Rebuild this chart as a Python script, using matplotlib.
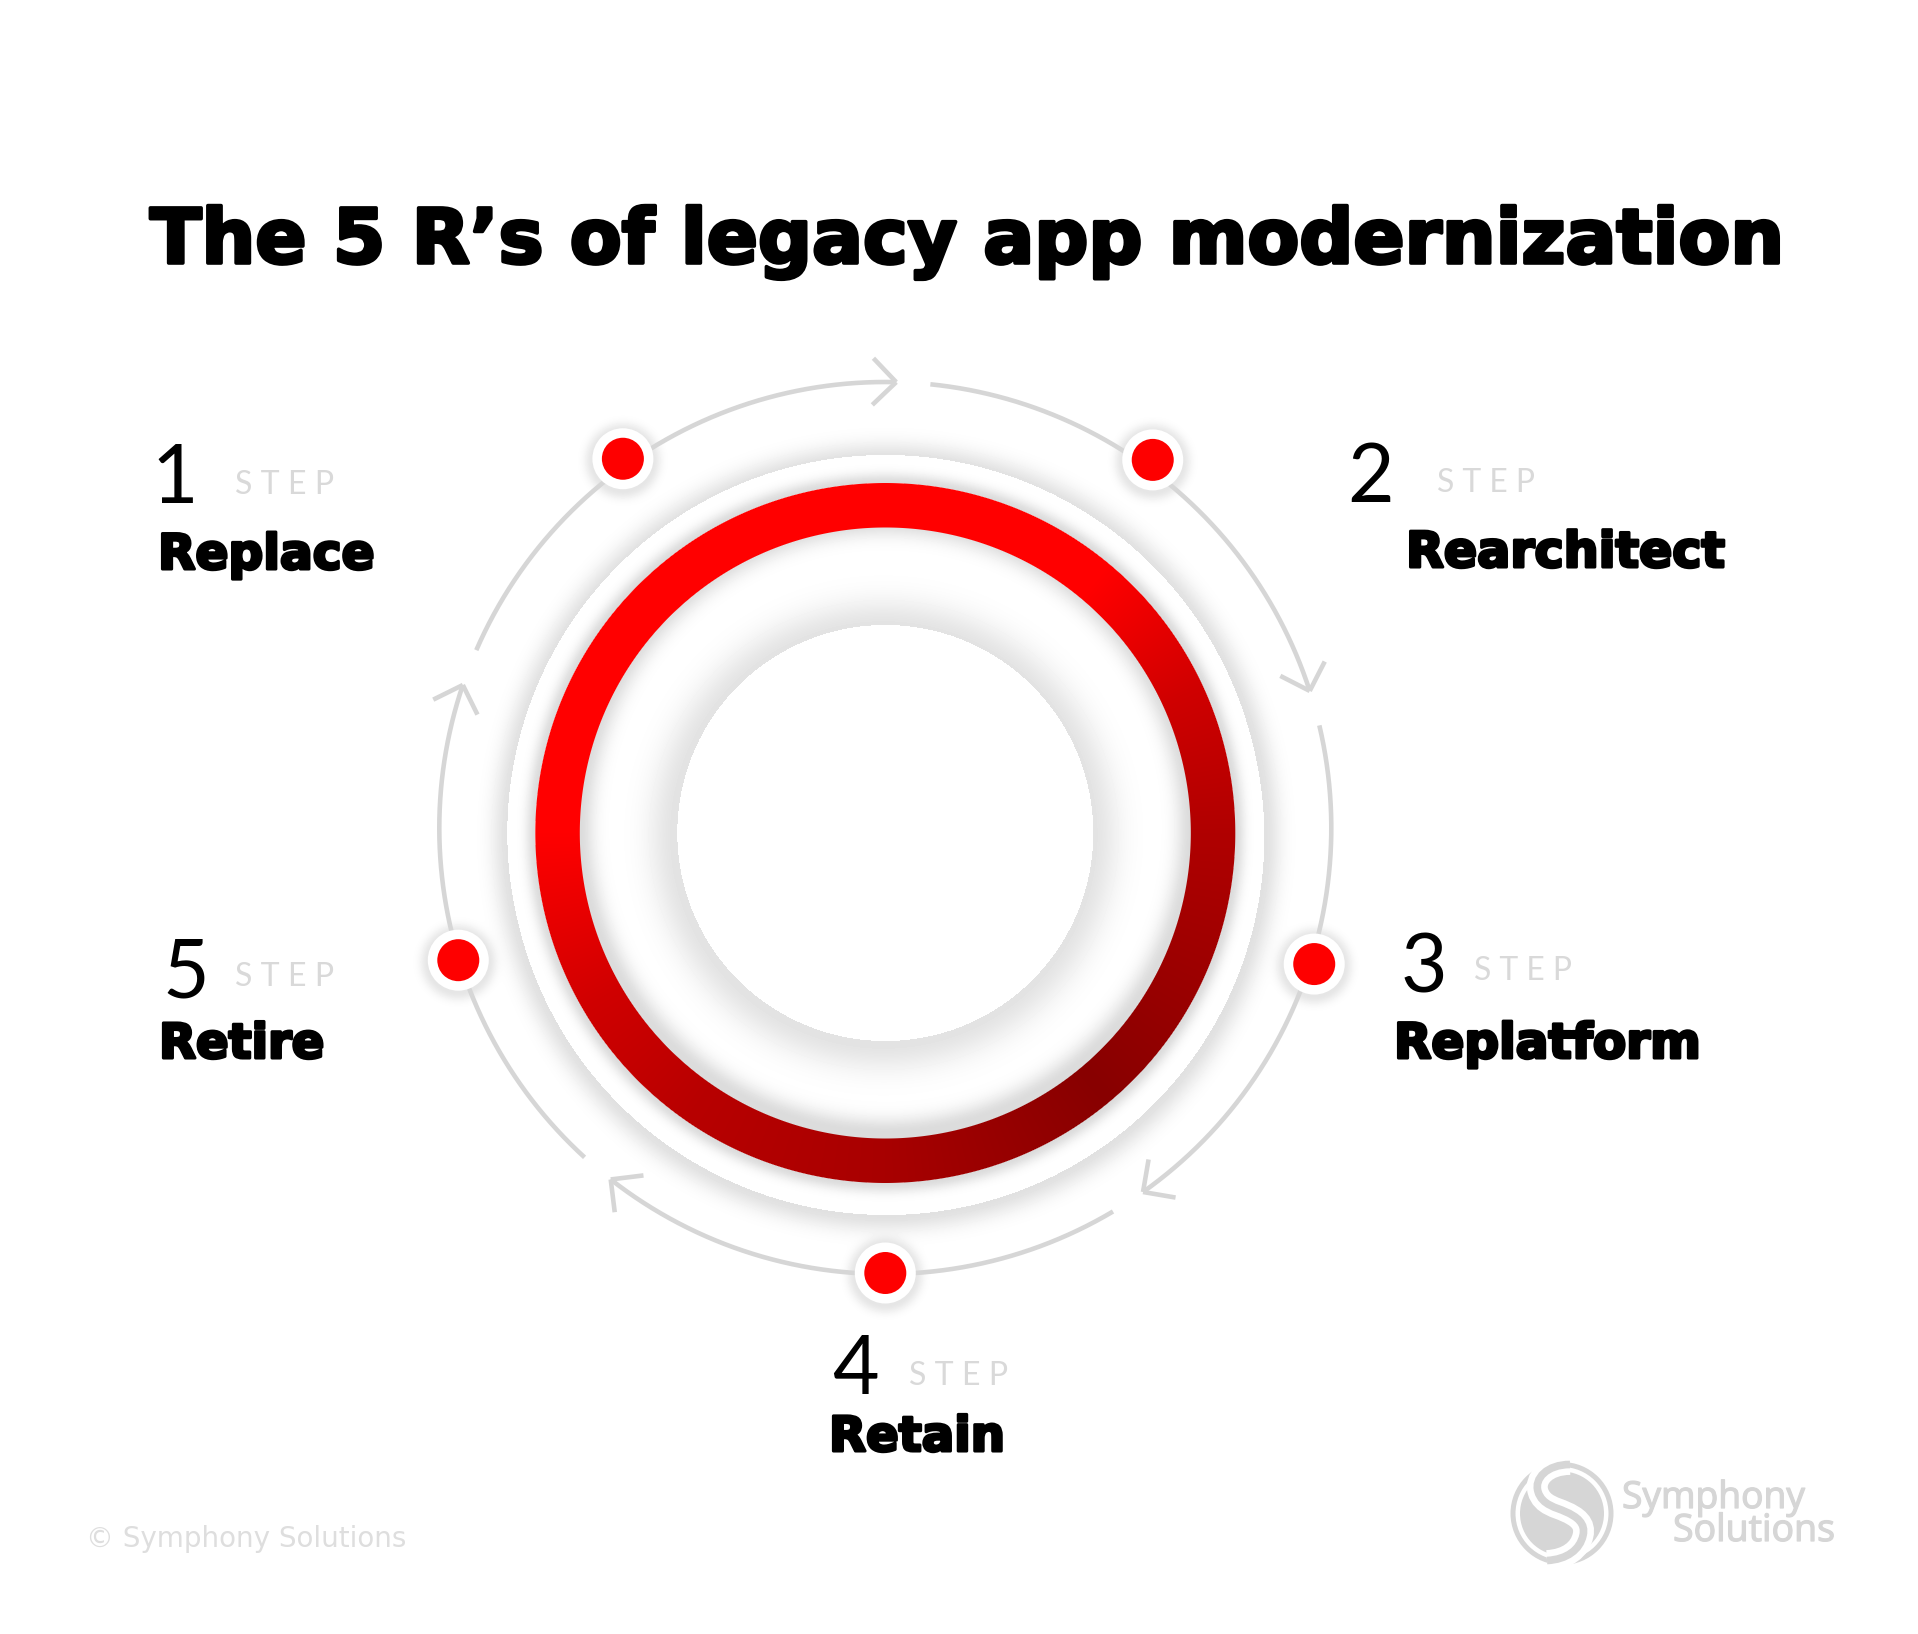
import numpy as np
import matplotlib
matplotlib.use("Agg")
import matplotlib.pyplot as plt
import matplotlib.patheffects as pe
from matplotlib.patches import Circle, PathPatch
from matplotlib.path import Path

# ---- content -------------------------------------------------------------
title = "The 5 R\u2019s of legacy app modernization"
step_numbers = ["1", "2", "3", "4", "5"]
step_names = ["Replace", "Rearchitect", "Replatform", "Retain", "Retire"]
# marker angle on the loop, degrees (counter-clockwise from east)
dot_angles = [125.4, 54.0, -17.6, -90.0, -162.8]
dot_radii = [453, 455, 450, 445, 447]
# arc start and arrow tip angles, degrees
arc_starts = [156.5, 84.2, 13.3, -59.3, -132.4]
arc_tips = [88.6, 17.9, -54.7, -128.0, -198.7]
# ring colour around the circle
ring_angles = [-180, -150, -125, -90, -50, 0, 25, 50, 180]
ring_reds = [255, 208, 184, 168, 136, 176, 208, 255, 255]

W, H = 1918, 1634
fig = plt.figure(figsize=(W / 100, H / 100), dpi=100, facecolor="white")
ax = fig.add_axes([0, 0, 1, 1])
ax.set_xlim(0, W)
ax.set_ylim(H, 0)
ax.axis("off")

CX, CY = 885.3, 833.0
LOOP_X, LOOP_Y, LOOP_R = 885.3, 828.0, 446.0
GREY = "#d6d6d6"

yy, xx = np.mgrid[0:H, 0:W] + 0.5
rr = np.hypot(xx - CX, yy - CY)


def soft(dist, depth, width):
    """Soft shadow strength for a distance beyond an edge."""
    return depth * np.exp(-np.clip(dist, 0, None) ** 2 / (2 * width ** 2))


shade = np.ones((H, W))
# halo outside the big disc
r2 = np.hypot(xx - CX - 1, yy - CY - 4)
out = soft(r2 - 378, 0.12, 12)
out[r2 < 378] = 0
shade -= out
# shadow around the ring inside the halo
band = (rr >= 350) & (rr < 378)
shade[band] = 1 - soft(rr[band] - 350, 0.14, 7)
shade[(r2 < 378) & (rr >= 378)] = 1
# inner shadows
mid = (rr < 306) & (rr >= 208)
r3 = np.hypot(xx - CX + 1.5, yy - CY - 2)
r4 = np.hypot(xx - CX, yy - CY + 6)
shade[mid] = (1 - soft(306 - r4[mid], 0.14, 11)) * (1 - soft(r3[mid] - 208, 0.11, 20))
shade[rr < 208] = 1
# soft shadow beneath the markers
for a, d in zip(dot_angles, dot_radii):
    dx = LOOP_X + d * np.cos(np.radians(a))
    dy = LOOP_Y - d * np.sin(np.radians(a))
    dd = np.hypot(xx - dx, yy - dy - 2)
    shade *= 1 - soft(dd - 30, 0.10, 6)
ax.imshow(shade, cmap="gray", vmin=0, vmax=1, extent=(0, W, H, 0),
          interpolation="nearest", zorder=0, aspect="auto")

# gradient ring
ang = np.degrees(np.arctan2(CY - yy, xx - CX))
red = np.interp(ang, ring_angles, ring_reds) / 255
rgba = np.zeros((H, W, 4))
rgba[..., 0] = red
rgba[..., 3] = np.clip(350.5 - rr, 0, 1) * np.clip(rr - 305.0, 0, 1)
ax.imshow(rgba, extent=(0, W, H, 0), interpolation="nearest", zorder=1, aspect="auto")
ax.set_xlim(0, W)
ax.set_ylim(H, 0)

# arcs with arrow heads
LW = 3.3
for start, tip in zip(arc_starts, arc_tips):
    th = np.radians(np.linspace(start, tip, 160))
    ax.plot(LOOP_X + LOOP_R * np.cos(th), LOOP_Y - LOOP_R * np.sin(th),
            color=GREY, lw=LW, solid_capstyle="butt", zorder=2)
    t = np.radians(tip)
    tx, ty = LOOP_X + LOOP_R * np.cos(t), LOOP_Y - LOOP_R * np.sin(t)
    # travel direction (clockwise on screen)
    ux, uy = np.sin(t), np.cos(t)
    for s in (-1, 1):
        c, sn = np.cos(np.radians(s * 45)), np.sin(np.radians(s * 45))
        wx, wy = ux * c - uy * sn, ux * sn + uy * c
        ax.plot([tx - 33 * wx, tx], [ty - 33 * wy, ty], color=GREY, lw=LW,
                solid_capstyle="butt", zorder=2)

# markers
for a, d in zip(dot_angles, dot_radii):
    dx = LOOP_X + d * np.cos(np.radians(a))
    dy = LOOP_Y - d * np.sin(np.radians(a))
    ax.add_patch(Circle((dx, dy), 30.5, fc="white", ec="none", zorder=3))
    ax.add_patch(Circle((dx, dy), 21, fc="#fe0000", ec="none", zorder=4))

renderer = fig.canvas.get_renderer()


def fit_text(s, x0, x1, baseline, size, **kw):
    """Place text with its ink spanning x0..x1, adjusting the size a little."""
    t = ax.text(x0, baseline, s, fontsize=size, ha="left", va="baseline", zorder=6, **kw)
    for _ in range(4):
        bb = t.get_window_extent(renderer)
        t.set_fontsize(t.get_fontsize() * (x1 - x0) / bb.width)
    bb = t.get_window_extent(renderer)
    t.set_x(x0 - (bb.x0 - x0))
    return t


def heavy(stroke):
    return dict(family="DejaVu Sans", weight="bold", color="black",
                path_effects=[pe.withStroke(linewidth=stroke, foreground="black")])


fit_text(title, 150, 1785, 263, 58, **heavy(2.6))

# step labels: number box, STEP box, name box, baselines
num_x = [(163, 187), (1348, 1394), (1402, 1446), (829, 881), (163, 208)]
num_base = [503, 502, 992, 1394, 997]
step_x = [(235, 334), (1437, 1535), (1474, 1572), (909, 1008), (235, 334)]
step_base = [493, 491, 979, 1384, 985]
name_x = [(158, 375), (1406, 1725), (1394, 1701), (829, 1005), (159, 324)]
name_base = [569, 567, 1058, 1451, 1058]

for i in range(5):
    ax.text(sum(num_x[i]) / 2, num_base[i], step_numbers[i], fontsize=58, family="Lato",
            color="black", ha="center", va="baseline", zorder=6)
    fit_text("S T E P", step_x[i][0], step_x[i][1], step_base[i] + 1, 21,
             family="Lato", color="#d9d9d9")
    fit_text(step_names[i], name_x[i][0], name_x[i][1], name_base[i], 37, **heavy(2.2))

fit_text("\u00a9 Symphony Solutions", 86, 406, 1547, 20, family="DejaVu Sans", color="#dedede")

# logo
LX, LY = 1562, 1513.5
LOGO = "#d6d6d6"
ax.add_patch(Circle((LX, LY), 42, fc=LOGO, ec="none", zorder=5))
ax.add_patch(Circle((LX, LY), 49, fc="none", ec=LOGO, lw=3.6, zorder=5))
s_verts = [(8, -49), (-15, -49), (-28, -35), (-24, -22), (-20, -8), (-5, -6), (3, -2),
           (15, 3), (24, 10), (21, 22), (18, 36), (5, 46), (-15, 47)]
s_codes = [Path.MOVETO] + [Path.CURVE4] * 12
s_path = Path([(LX + a, LY + b) for a, b in s_verts], s_codes)
ax.add_patch(PathPatch(s_path, fc="none", ec="white", lw=15, capstyle="butt", zorder=5))
ax.add_patch(PathPatch(s_path, fc="none", ec=LOGO, lw=5.5, capstyle="butt", zorder=5))
logo_fx = [pe.withStroke(linewidth=0.9, foreground=LOGO)]
fit_text("Symphony", 1622, 1805, 1508, 30, family="Open Sans", color=LOGO, path_effects=logo_fx)
fit_text("Solutions", 1673, 1835, 1541, 30, family="Open Sans", color=LOGO, path_effects=logo_fx)

fig.savefig("out.png", dpi=100, facecolor="white")
